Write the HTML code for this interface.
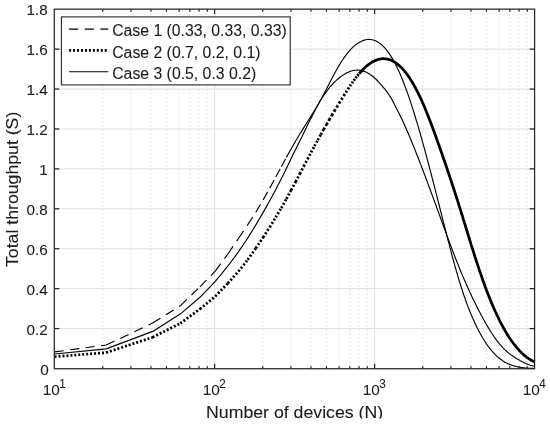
<!DOCTYPE html>
<html><head><meta charset="utf-8"><title>Total throughput</title>
<style>
html,body{margin:0;padding:0;background:#fff;}
svg{display:block}
text{font-family:"Liberation Sans",Arial,sans-serif;fill:#1c1c1c;stroke:#1c1c1c;stroke-width:0.1px}
</style></head><body>
<svg width="550" height="424" viewBox="0 0 550 424">
<rect width="550" height="424" fill="#fff"/>
<g stroke="#dedede" stroke-width="1" fill="none"><line x1="54.6" x2="534.6" y1="328.58" y2="328.58"/><line x1="54.6" x2="534.6" y1="288.66" y2="288.66"/><line x1="54.6" x2="534.6" y1="248.73" y2="248.73"/><line x1="54.6" x2="534.6" y1="208.81" y2="208.81"/><line x1="54.6" x2="534.6" y1="168.89" y2="168.89"/><line x1="54.6" x2="534.6" y1="128.97" y2="128.97"/><line x1="54.6" x2="534.6" y1="89.04" y2="89.04"/><line x1="54.6" x2="534.6" y1="49.12" y2="49.12"/><line x1="214.60" x2="214.60" y1="9.2" y2="368.5"/><line x1="374.60" x2="374.60" y1="9.2" y2="368.5"/></g>
<g stroke="#d9d9d9" stroke-width="1" stroke-dasharray="1.3 2.7" fill="none"><line x1="102.76" x2="102.76" y1="9.2" y2="368.5"/><line x1="130.94" x2="130.94" y1="9.2" y2="368.5"/><line x1="150.93" x2="150.93" y1="9.2" y2="368.5"/><line x1="166.44" x2="166.44" y1="9.2" y2="368.5"/><line x1="179.10" x2="179.10" y1="9.2" y2="368.5"/><line x1="189.82" x2="189.82" y1="9.2" y2="368.5"/><line x1="199.09" x2="199.09" y1="9.2" y2="368.5"/><line x1="207.28" x2="207.28" y1="9.2" y2="368.5"/><line x1="262.76" x2="262.76" y1="9.2" y2="368.5"/><line x1="290.94" x2="290.94" y1="9.2" y2="368.5"/><line x1="310.93" x2="310.93" y1="9.2" y2="368.5"/><line x1="326.44" x2="326.44" y1="9.2" y2="368.5"/><line x1="339.10" x2="339.10" y1="9.2" y2="368.5"/><line x1="349.82" x2="349.82" y1="9.2" y2="368.5"/><line x1="359.09" x2="359.09" y1="9.2" y2="368.5"/><line x1="367.28" x2="367.28" y1="9.2" y2="368.5"/><line x1="422.76" x2="422.76" y1="9.2" y2="368.5"/><line x1="450.94" x2="450.94" y1="9.2" y2="368.5"/><line x1="470.93" x2="470.93" y1="9.2" y2="368.5"/><line x1="486.44" x2="486.44" y1="9.2" y2="368.5"/><line x1="499.10" x2="499.10" y1="9.2" y2="368.5"/><line x1="509.82" x2="509.82" y1="9.2" y2="368.5"/><line x1="519.09" x2="519.09" y1="9.2" y2="368.5"/><line x1="527.28" x2="527.28" y1="9.2" y2="368.5"/></g>
<g fill="none" stroke="#000" stroke-linejoin="round">
<path d="M54.6,351.9 L63.7,350.7 M70.1,349.8 L79.2,348.6 M85.5,347.8 L94.6,346.5 M101.0,345.7 L106.2,345.0 L114.5,341.1 M120.3,338.4 L128.6,334.4 M134.4,331.7 L142.7,327.8 M148.5,325.1 L152.6,323.1 L160.4,318.2 M165.9,314.8 L173.7,309.9 M179.1,306.5 L180.3,305.8 L186.9,299.4 M191.5,295.0 L198.1,288.6 M200.0,286.8 L206.4,280.2 M210.9,275.7 L215.3,271.2 L220.7,263.7 M224.5,258.6 L227.8,254.0 L233.1,246.4 M236.7,241.1 L238.5,238.5 L243.6,230.9 M247.2,225.6 L247.7,224.8 L252.7,217.1 M255.8,212.2 L260.5,204.3 M263.1,200.0 L267.6,191.9 M269.7,188.2 L274.1,180.1 M275.7,177.0 L280.1,168.9 M281.3,166.8 L285.7,158.7 M286.4,157.4 L291.2,148.8 L295.6,141.0 L299.8,134.0 L303.8,127.6 L307.5,121.7 L311.1,116.1 L314.5,110.6 L317.7,105.2 L320.8,99.7 L323.7,94.2 L326.6,88.8 L329.3,83.5 L331.9,78.5 L334.4,73.7 L336.9,69.3 L339.2,65.2 L341.5,61.5 L343.7,58.2 L345.8,55.3 L347.9,52.6 L349.9,50.3 L351.9,48.2 L353.8,46.4 L355.6,44.9 L357.4,43.5 L359.2,42.4 L360.9,41.5 L362.6,40.7 L364.2,40.1 L365.8,39.7 L367.4,39.5 L368.9,39.4 L370.4,39.5 L371.8,39.7 L373.3,40.0 L374.7,40.5 L376.0,41.1 L377.4,41.8 L378.7,42.6 L380.0,43.5 L381.3,44.5 L382.5,45.7 L383.8,46.9 L385.0,48.2 L386.2,49.6 L387.3,51.0 L388.5,52.6 L389.6,54.2 L390.7,55.9 L391.8,57.6 L392.9,59.4 L393.9,61.3 L395.0,63.2 L396.0,65.2 L397.0,67.3 L398.0,69.4 L399.0,71.5 L400.0,73.7 L400.9,75.9 L401.9,78.2 L402.8,80.5 L403.7,82.8 L404.6,85.2 L405.5,87.6 L406.4,90.0 L407.3,92.4 L408.2,94.9 L409.0,97.4 L409.9,99.9 L410.7,102.4 L411.5,104.9 L412.3,107.4 L413.1,109.9 L413.9,112.5 L414.7,115.0 L415.5,117.5 L416.2,120.1 L417.0,122.6 L417.8,125.1 L418.5,127.7 L419.2,130.2 L420.0,132.7 L420.7,135.3 L421.4,137.8 L422.1,140.3 L422.8,142.8 L423.5,145.3 L424.2,147.8 L424.9,150.3 L425.5,152.7 L426.2,155.2 L426.8,157.6 L427.5,160.1 L428.1,162.5 L428.8,164.9 L429.4,167.3 L430.0,169.7 L430.7,172.1 L431.3,174.5 L431.9,176.8 L432.5,179.2 L433.1,181.5 L433.7,183.8 L434.3,186.1 L434.9,188.4 L435.5,190.7 L436.0,192.9 L436.6,195.2 L437.2,197.4 L437.7,199.6 L438.3,201.8 L438.9,204.0 L439.4,206.2 L439.9,208.3 L440.5,210.5 L441.0,212.6 L441.6,214.7 L442.1,216.8 L442.6,218.9 L443.1,220.9 L443.6,223.0 L444.2,225.0 L444.7,227.0 L445.2,229.0 L445.7,231.0 L446.2,232.9 L446.7,234.9 L447.2,236.8 L447.6,238.7 L448.1,240.5 L448.6,242.4 L449.1,244.2 L449.6,246.1 L450.0,247.9 L450.5,249.6 L451.0,251.4 L451.4,253.1 L451.9,254.8 L452.3,256.5 L452.8,258.2 L453.2,259.9 L453.7,261.5 L454.1,263.1 L454.6,264.7 L455.0,266.3 L455.4,267.8 L455.9,269.3 L456.3,270.9 L456.7,272.3 L457.2,273.8 L457.6,275.2 L458.0,276.7 L458.4,278.1 L458.8,279.4 L459.2,280.8 L459.7,282.1 L460.1,283.5 L460.5,284.8 L460.9,286.0 L461.3,287.3 L461.7,288.5 L462.1,289.8 L462.5,291.0 L462.9,292.1 L463.2,293.3 L463.6,294.4 L464.0,295.6 L464.4,296.7 L464.8,297.8 L465.2,298.9 L465.5,299.9 L465.9,301.0 L466.3,302.0 L466.6,303.0 L467.0,304.0 L467.4,305.0 L467.7,305.9 L468.1,306.9 L468.5,307.8 L468.8,308.8 L469.2,309.7 L469.5,310.6 L469.9,311.4 L470.2,312.3 L470.6,313.2 L470.9,314.0 L471.3,314.9 L471.6,315.7 L472.0,316.5 L472.3,317.3 L472.7,318.1 L473.0,318.8 L473.3,319.6 L473.7,320.3 L474.0,321.1 L474.3,321.8 L475.0,323.2 L475.6,324.6 L476.3,326.0 L476.9,327.3 L477.6,328.5 L478.2,329.8 L478.8,331.0 L479.4,332.1 L480.0,333.3 L480.7,334.4 L481.3,335.4 L481.9,336.5 L482.4,337.5 L483.0,338.5 L483.6,339.4 L484.2,340.3 L484.8,341.2 L485.3,342.1 L485.9,342.9 L486.4,343.8 L487.0,344.6 L487.6,345.3 L488.1,346.1 L488.6,346.8 L489.2,347.5 L489.7,348.2 L490.2,348.9 L490.8,349.6 L491.3,350.2 L492.1,351.1 L492.8,352.0 L493.6,352.8 L494.3,353.6 L495.1,354.4 L495.8,355.1 L496.5,355.8 L497.2,356.5 L497.9,357.1 L498.7,357.7 L499.3,358.3 L500.0,358.8 L500.7,359.3 L501.4,359.8 L502.1,360.3 L502.9,360.9 L503.8,361.4 L504.7,362.0 L505.5,362.4 L506.4,362.9 L507.2,363.3 L508.0,363.7 L508.8,364.1 L509.6,364.4 L510.4,364.7 L511.2,365.0 L512.0,365.3 L512.7,365.5 L513.7,365.8 L514.6,366.1 L515.5,366.3 L516.4,366.5 L517.3,366.7 L518.2,366.9 L519.1,367.1 L520.0,367.2 L520.8,367.4 L521.7,367.5 L522.5,367.6 L523.3,367.7 L524.1,367.8 L524.9,367.9 L525.9,368.0 L526.8,368.0 L527.7,368.1 L528.7,368.2 L529.6,368.2 L530.5,368.3 L531.3,368.3 L532.2,368.4 L533.1,368.4 L533.9,368.5 L534.6,368.5" stroke-width="1.15"/>
<path d="M54.6,354.0 L106.2,348.9 L152.7,331.4 L180.2,314.1 L200.0,297.3 L215.3,281.3 L216.3,280.1 L217.3,278.9 L218.3,277.7 L219.3,276.5 L220.3,275.3 L221.3,274.1 L222.3,272.8 L223.3,271.6 L224.3,270.4 L225.3,269.1 L226.3,267.9 L227.3,266.6 L228.3,265.3 L229.3,264.1 L230.3,262.8 L231.3,261.5 L232.3,260.2 L233.3,258.8 L234.3,257.5 L235.3,256.1 L236.3,254.8 L237.3,253.4 L238.3,252.0 L239.3,250.6 L240.3,249.1 L241.3,247.7 L242.3,246.2 L243.3,244.7 L244.3,243.2 L245.3,241.7 L246.3,240.2 L247.3,238.6 L248.3,237.1 L249.3,235.5 L250.3,233.9 L251.3,232.3 L252.3,230.7 L253.3,229.0 L254.3,227.4 L255.3,225.7 L256.3,224.1 L257.3,222.4 L258.3,220.7 L259.3,219.0 L260.3,217.3 L261.3,215.6 L262.3,213.9 L263.3,212.1 L264.3,210.4 L265.3,208.6 L266.3,206.9 L267.3,205.1 L268.3,203.3 L269.3,201.5 L270.3,199.7 L271.3,197.8 L272.3,196.0 L273.3,194.1 L274.3,192.3 L275.3,190.4 L276.3,188.5 L277.3,186.6 L278.3,184.6 L279.3,182.7 L280.3,180.7 L281.3,178.7 L282.3,176.7 L283.3,174.7 L284.3,172.7 L285.3,170.7 L286.3,168.6 L287.3,166.6 L288.3,164.5 L289.3,162.4 L290.3,160.3 L291.3,158.2 L292.3,156.1 L293.3,154.0 L294.3,151.9 L295.3,149.9 L296.3,147.9 L297.3,146.0 L298.3,144.0 L299.3,142.0 L300.3,140.0 L301.3,138.0 L302.3,136.0 L303.3,133.9 L304.3,131.8 L305.3,129.7 L306.3,127.7 L307.3,125.6 L308.3,123.6 L309.3,121.6 L310.3,119.6 L311.3,117.7 L312.3,115.7 L313.3,113.8 L314.3,111.8 L315.3,109.8 L316.3,107.8 L317.3,105.9 L318.3,104.1 L319.3,102.3 L320.3,100.6 L321.3,99.1 L322.3,97.5 L323.3,96.0 L324.3,94.6 L325.3,93.2 L326.3,91.8 L327.3,90.5 L328.3,89.2 L329.3,87.9 L330.3,86.7 L331.3,85.6 L332.3,84.5 L333.3,83.4 L334.3,82.4 L335.3,81.4 L336.3,80.4 L337.3,79.5 L338.3,78.7 L339.3,77.8 L340.3,77.0 L341.3,76.3 L342.3,75.6 L343.3,74.9 L344.3,74.3 L345.3,73.7 L346.3,73.1 L347.3,72.6 L348.3,72.2 L349.3,71.7 L350.3,71.4 L351.3,71.0 L352.3,70.8 L353.3,70.5 L354.3,70.4 L355.3,70.2 L356.3,70.2 L357.3,70.1 L358.3,70.2 L359.3,70.2 L360.3,70.4 L361.3,70.6 L362.3,70.8 L363.3,71.1 L364.3,71.4 L365.3,71.8 L366.3,72.3 L367.3,72.8 L368.3,73.3 L369.3,73.9 L370.3,74.6 L371.3,75.3 L372.3,76.0 L373.3,76.8 L374.3,77.7 L375.3,78.6 L376.3,79.5 L377.3,80.5 L378.3,81.6 L379.3,82.7 L380.3,83.8 L381.3,84.9 L382.3,86.1 L383.3,87.3 L384.3,88.5 L385.3,89.7 L386.3,91.0 L387.3,92.4 L388.3,93.8 L389.3,95.3 L390.3,96.9 L391.3,98.5 L392.3,100.3 L393.3,102.1 L394.3,104.0 L395.3,105.9 L396.3,107.9 L397.3,109.9 L398.3,111.9 L399.3,113.9 L400.3,116.0 L401.3,118.0 L402.3,120.1 L403.3,122.3 L404.3,124.5 L405.3,126.7 L406.3,129.0 L407.3,131.3 L408.3,133.6 L409.3,135.9 L410.3,138.3 L411.3,140.7 L412.3,143.2 L413.3,145.6 L414.3,148.1 L415.3,150.6 L416.3,153.2 L417.3,155.7 L418.3,158.3 L419.3,160.8 L420.3,163.4 L421.3,166.1 L422.3,168.7 L423.3,171.3 L424.3,173.9 L425.3,176.6 L426.3,179.3 L427.3,181.9 L428.3,184.6 L429.3,187.3 L430.3,190.0 L431.3,192.7 L432.3,195.4 L433.3,198.1 L434.3,200.9 L435.3,203.6 L436.3,206.3 L437.3,209.1 L438.3,211.8 L439.3,214.6 L440.3,217.3 L441.3,220.1 L442.3,222.8 L443.3,225.5 L444.3,228.3 L445.3,231.0 L446.3,233.7 L447.3,236.5 L448.3,239.2 L449.3,241.9 L450.3,244.6 L451.3,247.2 L452.3,249.9 L453.3,252.5 L454.3,255.1 L455.3,257.7 L456.3,260.3 L457.3,262.8 L458.3,265.3 L459.3,267.8 L460.3,270.2 L461.3,272.7 L462.3,275.1 L463.3,277.4 L464.3,279.8 L465.3,282.1 L466.3,284.3 L467.3,286.6 L468.3,288.8 L469.3,291.0 L470.3,293.1 L471.3,295.3 L472.3,297.4 L473.3,299.4 L474.3,301.5 L475.3,303.5 L476.3,305.5 L477.3,307.5 L478.3,309.5 L479.3,311.4 L480.3,313.3 L481.3,315.2 L482.3,317.0 L483.3,318.9 L484.3,320.7 L485.3,322.5 L486.3,324.2 L487.3,325.9 L488.3,327.6 L489.3,329.3 L490.3,330.9 L491.3,332.5 L492.3,334.0 L493.3,335.5 L494.3,337.0 L495.3,338.4 L496.3,339.8 L497.3,341.1 L498.3,342.4 L499.3,343.6 L500.3,344.8 L501.3,346.0 L502.3,347.1 L503.3,348.1 L504.3,349.1 L505.3,350.1 L506.3,351.0 L507.3,351.9 L508.3,352.7 L509.3,353.6 L510.3,354.3 L511.3,355.1 L512.3,355.8 L513.3,356.5 L514.3,357.1 L515.3,357.8 L516.3,358.4 L517.3,359.0 L518.3,359.6 L519.3,360.1 L520.3,360.7 L521.3,361.2 L522.3,361.8 L523.3,362.3 L524.3,362.8 L525.3,363.2 L526.3,363.7 L527.3,364.1 L528.3,364.5 L529.3,364.8 L530.3,365.2 L531.3,365.5 L532.3,365.7 L533.3,366.0 L534.3,366.1 L534.6,366.2" stroke-width="1.15"/>
<path d="M54.6,356.7 L56.6,356.5 M58.5,356.4 L60.5,356.2 M62.5,356.1 L64.5,355.9 M66.4,355.8 L68.4,355.6 M70.4,355.4 L72.4,355.3 M74.3,355.1 L76.3,355.0 M78.3,354.8 L80.3,354.7 M82.2,354.5 L84.2,354.3 M86.2,354.2 L88.2,354.0 M90.1,353.9 L92.1,353.7 M94.1,353.6 L96.1,353.4 M98.0,353.2 L100.0,353.1 M102.0,352.9 L104.0,352.8 M105.9,352.6 L108.1,352.0 M109.9,351.4 L111.8,350.7 M113.7,350.1 L115.6,349.5 M117.4,348.9 L119.3,348.3 M121.2,347.7 L123.1,347.0 M125.0,346.4 L126.9,345.8 M128.7,345.2 L130.6,344.5 M132.5,343.9 L134.4,343.3 M136.2,342.7 L138.1,342.1 M140.0,341.5 L141.9,340.8 M143.8,340.2 L145.7,339.6 M147.5,339.0 L149.4,338.4 M151.3,337.7 L152.6,337.3 L154.4,336.4 M156.2,335.5 L158.0,334.6 M159.7,333.7 L161.5,332.8 M163.3,332.0 L165.0,331.1 M166.8,330.2 L168.6,329.3 M170.3,328.4 L172.1,327.5 M173.9,326.6 L175.7,325.7 M177.4,324.8 L179.2,323.9 M180.3,323.4 L181.9,322.2 M183.5,321.1 L185.1,319.9 M186.6,318.7 L188.3,317.5 M189.8,316.4 L191.5,315.2 M193.0,314.1 L194.7,312.9 M196.2,311.7 L197.9,310.5 M199.4,309.4 L201.5,307.7 M203.0,306.5 L204.6,305.2 M206.1,304.0 L207.6,302.7 M209.1,301.4 L210.7,300.2 M212.2,298.9 L213.7,297.6 M215.2,296.4 L216.7,294.9 M218.0,293.5 L219.4,292.0 M220.8,290.6 L222.2,289.2 M223.5,287.8 L224.9,286.3 M226.3,284.9 L227.7,283.5 M227.8,283.3 L229.2,281.8 M230.5,280.3 L231.8,278.8 M233.1,277.4 L234.5,275.9 M235.8,274.4 L237.1,272.9 M238.4,271.5 L239.7,269.9 M240.9,268.3 L242.2,266.8 M243.4,265.2 L244.6,263.6 M245.8,262.1 L247.0,260.5 M247.7,259.7 L248.8,258.1 M250.0,256.5 L251.1,254.8 M252.3,253.2 L253.4,251.6 M254.6,250.0 L255.7,248.4 M255.8,248.2 L256.9,246.6 M258.0,244.9 L259.2,243.3 M260.2,241.7 L261.4,240.0 M262.5,238.4 L263.1,237.4 L264.2,235.7 M265.3,234.1 L266.3,232.4 M267.4,230.7 L268.5,229.0 M269.6,227.4 L270.8,225.5 M271.8,223.8 L272.8,222.1 M273.9,220.4 L274.9,218.7 M275.7,217.4 L276.7,215.7 M277.7,214.0 L278.7,212.3 M279.7,210.6 L280.8,208.9 M281.3,208.0 L282.2,206.3 M283.2,204.6 L284.2,202.8 M285.1,201.1 L286.1,199.4 M286.4,198.9 L287.4,197.1 M288.3,195.4 L289.2,193.7 M290.2,191.9 L291.1,190.2 M291.2,190.1 L292.1,188.4 M293.0,186.6 L294.0,184.9 M294.9,183.2 L295.6,181.8 L296.6,180.0 M297.5,178.3 L298.4,176.5 M299.3,174.8 L299.8,173.8 L300.8,172.1 M301.7,170.3 L302.6,168.5 M303.5,166.8 L304.7,164.5 M305.6,162.8 L306.6,161.0 M307.5,159.3 L308.5,157.4 M309.4,155.7 L310.3,153.9 M311.1,152.4 L312.0,150.7 M313.0,148.9 L313.9,147.2 M314.5,146.1 L315.4,144.4 M316.4,142.6 L317.3,140.9 M317.7,140.2 L318.7,138.4 M319.6,136.7 L320.6,134.9 M320.8,134.6 L321.8,132.8 M322.7,131.1 L323.7,129.4 M323.7,129.3 L324.7,127.6 M325.7,125.9 L326.6,124.4 L327.6,122.6 M328.6,120.9 L329.3,119.7 L330.3,118.0 M331.3,116.3 L331.9,115.2 L332.9,113.5 M333.9,111.8 L334.4,111.0 L335.5,109.3 M336.5,107.6 L337.9,105.2 M338.9,103.6 L340.3,101.4 M341.3,99.7 L342.5,97.7 M343.6,96.0 L344.8,94.1 M345.8,92.5 L346.9,90.7 M347.9,89.2 L349.0,87.5 M349.9,86.1 L351.0,84.5 M351.9,83.3 L353.0,81.6 M353.8,80.6 L355.0,79.0 M355.6,78.1 L356.8,76.5 M357.4,75.8 L358.7,74.2 M359.2,73.6 L360.9,71.7 L362.6,69.9 L364.2,68.2 L365.8,66.8 L367.4,65.4 L368.9,64.3 L370.4,63.2 L371.8,62.3 L373.3,61.5 L374.7,60.8 L376.0,60.2 L377.4,59.7 L378.7,59.3 L380.0,59.0 L381.3,58.8 L382.5,58.7 L383.8,58.7 L385.0,58.8 L386.2,58.9 L387.3,59.1 L388.5,59.4 L389.6,59.7 L390.7,60.1 L391.8,60.6 L392.9,61.1 L393.9,61.7 L395.0,62.3 L396.0,63.0 L397.0,63.8 L398.0,64.6 L399.0,65.4 L400.0,66.3 L400.9,67.2 L401.9,68.1 L402.8,69.2 L403.7,70.2 L404.6,71.3 L405.5,72.4 L406.4,73.5 L407.3,74.7 L408.2,75.9 L409.0,77.1 L409.9,78.4 L410.7,79.7 L411.5,81.0 L412.3,82.3 L413.1,83.7 L413.9,85.1 L414.7,86.5 L415.5,87.9 L416.2,89.3 L417.0,90.8 L417.8,92.3 L418.5,93.8 L419.2,95.3 L420.0,96.8 L420.7,98.4 L421.4,99.9 L422.1,101.5 L422.8,103.1 L423.5,104.7 L424.2,106.3 L424.9,107.9 L425.5,109.5 L426.2,111.1 L426.8,112.8 L427.5,114.4 L428.1,116.0 L428.8,117.6 L429.4,119.3 L430.0,120.9 L430.7,122.5 L431.3,124.2 L431.9,125.8 L432.5,127.4 L433.1,129.1 L433.7,130.7 L434.3,132.3 L434.9,133.9 L435.5,135.5 L436.0,137.1 L436.6,138.7 L437.2,140.3 L437.7,141.9 L438.3,143.4 L438.9,145.0 L439.4,146.6 L439.9,148.1 L440.5,149.7 L441.0,151.2 L441.6,152.7 L442.1,154.2 L442.6,155.8 L443.1,157.3 L443.6,158.8 L444.2,160.2 L444.7,161.7 L445.2,163.2 L445.7,164.7 L446.2,166.1 L446.7,167.6 L447.2,169.0 L447.6,170.5 L448.1,171.9 L448.6,173.3 L449.1,174.7 L449.6,176.2 L450.0,177.6 L450.5,179.0 L451.0,180.4 L451.4,181.8 L451.9,183.2 L452.3,184.5 L452.8,185.9 L453.2,187.3 L453.7,188.7 L454.1,190.0 L454.6,191.4 L455.0,192.7 L455.4,194.1 L455.9,195.4 L456.3,196.8 L456.7,198.1 L457.2,199.4 L457.6,200.7 L458.0,202.1 L458.4,203.4 L458.8,204.7 L459.2,206.0 L459.7,207.3 L460.1,208.6 L460.5,209.9 L460.9,211.2 L461.3,212.5 L461.7,213.8 L462.1,215.0 L462.5,216.3 L462.9,217.6 L463.2,218.8 L463.6,220.1 L464.0,221.3 L464.4,222.6 L464.8,223.8 L465.2,225.1 L465.5,226.3 L465.9,227.5 L466.3,228.7 L466.6,229.9 L467.0,231.1 L467.4,232.3 L467.7,233.5 L468.1,234.7 L468.5,235.9 L468.8,237.0 L469.2,238.2 L469.5,239.3 L469.9,240.5 L470.2,241.6 L470.6,242.7 L470.9,243.9 L471.3,245.0 L471.6,246.1 L472.0,247.2 L472.3,248.3 L472.7,249.4 L473.0,250.5 L473.3,251.5 L473.7,252.6 L474.0,253.6 L474.3,254.7 L474.7,255.7 L475.0,256.8 L475.3,257.8 L475.6,258.8 L476.0,259.8 L476.3,260.8 L476.6,261.8 L476.9,262.8 L477.3,263.7 L477.6,264.7 L477.9,265.7 L478.2,266.6 L478.5,267.5 L478.8,268.5 L479.1,269.4 L479.4,270.3 L479.7,271.2 L480.0,272.1 L480.4,273.0 L480.7,273.9 L481.0,274.8 L481.3,275.6 L481.6,276.5 L481.9,277.4 L482.2,278.2 L482.4,279.0 L482.7,279.9 L483.0,280.7 L483.3,281.5 L483.6,282.3 L483.9,283.1 L484.2,283.9 L484.5,284.7 L484.8,285.5 L485.0,286.2 L485.3,287.0 L485.6,287.7 L485.9,288.5 L486.4,290.0 L487.0,291.4 L487.6,292.9 L488.1,294.3 L488.6,295.6 L489.2,297.0 L489.7,298.3 L490.2,299.6 L490.8,300.9 L491.3,302.2 L491.8,303.4 L492.3,304.6 L492.8,305.8 L493.3,307.0 L493.8,308.1 L494.3,309.3 L494.8,310.4 L495.3,311.5 L495.8,312.5 L496.3,313.6 L496.8,314.6 L497.2,315.7 L497.7,316.6 L498.2,317.6 L498.7,318.6 L499.1,319.5 L499.6,320.5 L500.0,321.4 L500.5,322.3 L500.9,323.2 L501.4,324.0 L501.8,324.9 L502.3,325.7 L502.7,326.5 L503.2,327.3 L503.6,328.1 L504.0,328.9 L504.5,329.6 L504.9,330.4 L505.3,331.1 L505.7,331.8 L506.2,332.6 L506.6,333.2 L507.2,334.3 L507.8,335.3 L508.4,336.2 L509.0,337.2 L509.6,338.1 L510.2,339.0 L510.8,339.8 L511.4,340.7 L512.0,341.5 L512.6,342.3 L513.1,343.0 L513.7,343.8 L514.2,344.5 L514.8,345.2 L515.4,345.9 L515.9,346.6 L516.4,347.3 L517.0,347.9 L517.5,348.5 L518.1,349.1 L518.8,349.9 L519.4,350.7 L520.1,351.4 L520.8,352.1 L521.5,352.7 L522.2,353.4 L522.8,354.0 L523.5,354.6 L524.1,355.1 L524.8,355.7 L525.4,356.2 L526.0,356.7 L526.8,357.3 L527.6,357.8 L528.4,358.4 L529.1,358.9 L529.9,359.4 L530.6,359.8 L531.3,360.3 L532.1,360.7 L532.8,361.1 L533.5,361.4 L534.3,361.9 L534.6,362.0" stroke-width="2.75"/>
</g>
<g stroke="#262626" stroke-width="1.25" fill="none"><rect x="54.3" y="9.15" width="480.30" height="359.60"/><line x1="54.3" x2="59.3" y1="328.58" y2="328.58"/><line x1="534.6" x2="529.6" y1="328.58" y2="328.58"/><line x1="54.3" x2="59.3" y1="288.66" y2="288.66"/><line x1="534.6" x2="529.6" y1="288.66" y2="288.66"/><line x1="54.3" x2="59.3" y1="248.73" y2="248.73"/><line x1="534.6" x2="529.6" y1="248.73" y2="248.73"/><line x1="54.3" x2="59.3" y1="208.81" y2="208.81"/><line x1="534.6" x2="529.6" y1="208.81" y2="208.81"/><line x1="54.3" x2="59.3" y1="168.89" y2="168.89"/><line x1="534.6" x2="529.6" y1="168.89" y2="168.89"/><line x1="54.3" x2="59.3" y1="128.97" y2="128.97"/><line x1="534.6" x2="529.6" y1="128.97" y2="128.97"/><line x1="54.3" x2="59.3" y1="89.04" y2="89.04"/><line x1="534.6" x2="529.6" y1="89.04" y2="89.04"/><line x1="54.3" x2="59.3" y1="49.12" y2="49.12"/><line x1="534.6" x2="529.6" y1="49.12" y2="49.12"/><line x1="102.76" x2="102.76" y1="368.75" y2="366.15"/><line x1="102.76" x2="102.76" y1="9.15" y2="11.75"/><line x1="130.94" x2="130.94" y1="368.75" y2="366.15"/><line x1="130.94" x2="130.94" y1="9.15" y2="11.75"/><line x1="150.93" x2="150.93" y1="368.75" y2="366.15"/><line x1="150.93" x2="150.93" y1="9.15" y2="11.75"/><line x1="166.44" x2="166.44" y1="368.75" y2="366.15"/><line x1="166.44" x2="166.44" y1="9.15" y2="11.75"/><line x1="179.10" x2="179.10" y1="368.75" y2="366.15"/><line x1="179.10" x2="179.10" y1="9.15" y2="11.75"/><line x1="189.82" x2="189.82" y1="368.75" y2="366.15"/><line x1="189.82" x2="189.82" y1="9.15" y2="11.75"/><line x1="199.09" x2="199.09" y1="368.75" y2="366.15"/><line x1="199.09" x2="199.09" y1="9.15" y2="11.75"/><line x1="207.28" x2="207.28" y1="368.75" y2="366.15"/><line x1="207.28" x2="207.28" y1="9.15" y2="11.75"/><line x1="214.60" x2="214.60" y1="368.75" y2="363.75"/><line x1="214.60" x2="214.60" y1="9.15" y2="14.15"/><line x1="262.76" x2="262.76" y1="368.75" y2="366.15"/><line x1="262.76" x2="262.76" y1="9.15" y2="11.75"/><line x1="290.94" x2="290.94" y1="368.75" y2="366.15"/><line x1="290.94" x2="290.94" y1="9.15" y2="11.75"/><line x1="310.93" x2="310.93" y1="368.75" y2="366.15"/><line x1="310.93" x2="310.93" y1="9.15" y2="11.75"/><line x1="326.44" x2="326.44" y1="368.75" y2="366.15"/><line x1="326.44" x2="326.44" y1="9.15" y2="11.75"/><line x1="339.10" x2="339.10" y1="368.75" y2="366.15"/><line x1="339.10" x2="339.10" y1="9.15" y2="11.75"/><line x1="349.82" x2="349.82" y1="368.75" y2="366.15"/><line x1="349.82" x2="349.82" y1="9.15" y2="11.75"/><line x1="359.09" x2="359.09" y1="368.75" y2="366.15"/><line x1="359.09" x2="359.09" y1="9.15" y2="11.75"/><line x1="367.28" x2="367.28" y1="368.75" y2="366.15"/><line x1="367.28" x2="367.28" y1="9.15" y2="11.75"/><line x1="374.60" x2="374.60" y1="368.75" y2="363.75"/><line x1="374.60" x2="374.60" y1="9.15" y2="14.15"/><line x1="422.76" x2="422.76" y1="368.75" y2="366.15"/><line x1="422.76" x2="422.76" y1="9.15" y2="11.75"/><line x1="450.94" x2="450.94" y1="368.75" y2="366.15"/><line x1="450.94" x2="450.94" y1="9.15" y2="11.75"/><line x1="470.93" x2="470.93" y1="368.75" y2="366.15"/><line x1="470.93" x2="470.93" y1="9.15" y2="11.75"/><line x1="486.44" x2="486.44" y1="368.75" y2="366.15"/><line x1="486.44" x2="486.44" y1="9.15" y2="11.75"/><line x1="499.10" x2="499.10" y1="368.75" y2="366.15"/><line x1="499.10" x2="499.10" y1="9.15" y2="11.75"/><line x1="509.82" x2="509.82" y1="368.75" y2="366.15"/><line x1="509.82" x2="509.82" y1="9.15" y2="11.75"/><line x1="519.09" x2="519.09" y1="368.75" y2="366.15"/><line x1="519.09" x2="519.09" y1="9.15" y2="11.75"/><line x1="527.28" x2="527.28" y1="368.75" y2="366.15"/><line x1="527.28" x2="527.28" y1="9.15" y2="11.75"/></g>
<text transform="translate(48.7,374.75) scale(0.955,0.95)" text-anchor="end" font-size="16">0</text><text transform="translate(47.7,334.83) scale(0.955,0.95)" text-anchor="end" font-size="16">0.2</text><text transform="translate(47.7,294.91) scale(0.955,0.95)" text-anchor="end" font-size="16">0.4</text><text transform="translate(47.7,254.98) scale(0.955,0.95)" text-anchor="end" font-size="16">0.6</text><text transform="translate(47.7,215.06) scale(0.955,0.95)" text-anchor="end" font-size="16">0.8</text><text transform="translate(47.7,175.14) scale(0.955,0.95)" text-anchor="end" font-size="16">1</text><text transform="translate(47.7,135.22) scale(0.955,0.95)" text-anchor="end" font-size="16">1.2</text><text transform="translate(47.7,95.29) scale(0.955,0.95)" text-anchor="end" font-size="16">1.4</text><text transform="translate(47.7,55.37) scale(0.955,0.95)" text-anchor="end" font-size="16">1.6</text><text transform="translate(47.7,15.45) scale(0.955,0.95)" text-anchor="end" font-size="16">1.8</text><text transform="translate(42.80,395.3) scale(0.955,0.95)" font-size="16">10</text><text transform="translate(59.30,387.9) scale(0.73,0.78)" font-size="16">1</text><text transform="translate(202.80,395.3) scale(0.955,0.95)" font-size="16">10</text><text transform="translate(219.30,387.9) scale(0.73,0.78)" font-size="16">2</text><text transform="translate(362.80,395.3) scale(0.955,0.95)" font-size="16">10</text><text transform="translate(379.30,387.9) scale(0.73,0.78)" font-size="16">3</text><text transform="translate(522.80,395.3) scale(0.955,0.95)" font-size="16">10</text><text transform="translate(539.30,387.9) scale(0.73,0.78)" font-size="16">4</text>
<clipPath id="cb"><rect x="0" y="0" width="550" height="418.4"/></clipPath>
<text clip-path="url(#cb)" x="206" y="417.7" font-size="16.8" textLength="177.2" lengthAdjust="spacingAndGlyphs">Number of devices (N)</text>
<text transform="translate(17.8,267) rotate(-90)" font-size="16.8" textLength="155.3" lengthAdjust="spacingAndGlyphs">Total throughput (S)</text>
<rect x="61.4" y="16.9" width="228.8" height="68.0" fill="#fff" stroke="#262626" stroke-width="1.1"/>
<g stroke="#000" fill="none"><line x1="69.1" x2="108.3" y1="29.1" y2="29.1" stroke-width="1.15" stroke-dasharray="9.2 6.4"/><line x1="69.1" x2="108.3" y1="50.4" y2="50.4" stroke-width="2.75" stroke-dasharray="2.0 1.96"/><line x1="69.1" x2="108.3" y1="71.7" y2="71.7" stroke-width="1.15"/></g>
<text x="112.2" y="36.4" font-size="15.6" textLength="174.6" lengthAdjust="spacingAndGlyphs">Case 1 (0.33, 0.33, 0.33)</text>
<text x="112.2" y="57.5" font-size="15.6" textLength="148.4" lengthAdjust="spacingAndGlyphs">Case 2 (0.7, 0.2, 0.1)</text>
<text x="112.2" y="78.9" font-size="15.6" textLength="144.0" lengthAdjust="spacingAndGlyphs">Case 3 (0.5, 0.3 0.2)</text>
</svg>
</body></html>
